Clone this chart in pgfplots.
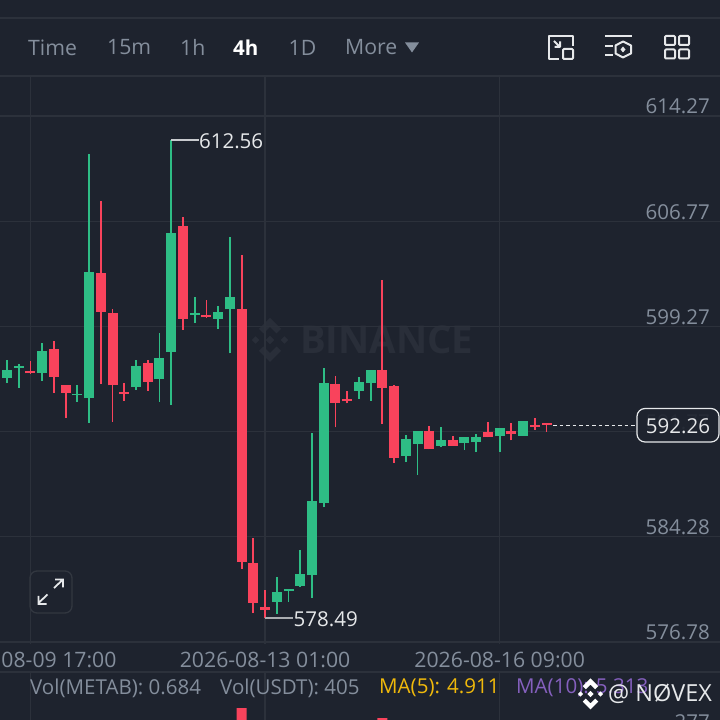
\documentclass[border=0pt]{standalone}
\usepackage{pgfplots}
\pgfplotsset{compat=1.18}
\usepackage{pgfplotstable}
\usepackage{fontspec}
\setmainfont{Open Sans}
\definecolor{bg}{HTML}{1E232E}
\definecolor{gridc}{HTML}{2C313B}
\definecolor{up}{HTML}{2EBD85}
\definecolor{down}{HTML}{F9435C}
\definecolor{graytxt}{HTML}{848E9C}
\definecolor{lighttxt}{HTML}{E6E8EA}
\definecolor{wm}{HTML}{292E39}
\definecolor{maorange}{HTML}{F0B90B}
\definecolor{mapurple}{HTML}{8560BE}
\newcommand{\fs}{\fontsize{20.6}{24}\selectfont}
\newcommand{\fd}{\fontsize{21.3}{24}\selectfont}
% candles: i high low bodytop bodybottom
\pgfplotstableread{
i h l t b
0 596.88 595.22 596.16 595.59
1 596.57 594.90 596.45 596.34
3 598.07 595.40 597.52 595.97
6 595.10 593.91 594.45 594.35
7 611.54 592.41 603.15 594.15
11 596.86 594.74 596.45 594.95
13 598.82 593.91 597.02 595.50
14 612.56 593.67 605.95 597.43
16 601.39 599.54 600.23 600.11
18 600.73 599.09 600.32 599.80
19 605.64 597.35 601.39 600.49
23 581.41 578.77 580.34 579.63
24 580.58 579.63 580.55 580.39
25 583.31 580.72 581.62 580.79
26 591.67 579.93 586.83 581.55
27 596.29 586.38 595.22 586.71
30 595.64 594.12 595.29 594.65
31 596.14 593.96 596.14 595.22
34 591.55 589.63 591.27 590.06
35 591.82 588.70 591.82 590.89
37 592.10 590.65 591.15 590.77
39 591.37 590.48 591.37 590.98
40 591.60 590.32 591.37 591.01
42 592.05 590.32 592.05 591.44
44 592.53 591.46 592.53 591.46
}\upcandles
\pgfplotstableread{
i h l t b
2 596.83 595.88 596.11 595.93
4 598.23 594.55 597.64 595.69
5 595.12 592.76 595.12 594.53
8 608.23 595.17 603.10 600.32
9 600.49 592.48 600.25 595.07
10 595.26 593.96 594.60 594.48
12 596.88 594.69 596.69 595.31
15 607.07 599.02 606.45 599.80
17 601.13 599.87 600.06 599.92
20 604.36 582.00 600.49 582.48
21 584.17 578.84 582.43 579.56
22 580.48 578.49 579.25 579.04
28 595.72 592.08 595.15 593.83
29 594.65 593.79 594.10 593.93
32 602.58 592.32 596.14 594.90
33 595.07 589.54 595.00 589.91
36 592.19 590.51 591.82 590.51
38 591.48 590.75 591.17 590.75
41 592.46 591.37 591.72 591.37
43 592.39 591.15 591.79 591.60
45 592.76 591.89 592.24 592.12
46 592.41 591.77 592.41 592.26
}\downcandles
\newcommand{\bnlogo}[4]{% cx cy scale colour
\begin{scope}[shift={(#1,#2)},x=#3bp,y=#3bp]
\fill[#4] (0,-1)--(.5,-.5)--(.3,-.3)--(0,-.6)--(-.3,-.3)--(-.5,-.5)--cycle;
\fill[#4] (0,1)--(.5,.5)--(.3,.3)--(0,.6)--(-.3,.3)--(-.5,.5)--cycle;
\fill[#4] (0,-.2)--(.2,0)--(0,.2)--(-.2,0)--cycle;
\fill[#4] (-.65,-.17)--(-.48,0)--(-.65,.17)--(-.82,0)--cycle;
\fill[#4] (.65,-.17)--(.82,0)--(.65,.17)--(.48,0)--cycle;
\end{scope}}
\newcommand{\candles}[2]{%
\addplot[draw=none,mark=none,forget plot,error bars/.cd,y dir=plus,y explicit,error mark=none,
  error bar style={#2,line width=1.8bp}] table[x=i,y=l,y error plus expr=\thisrow{h}-\thisrow{l}] {#1};
\addplot[draw=none,mark=none,forget plot,error bars/.cd,y dir=plus,y explicit,error mark=none,
  error bar style={#2,line width=10bp}] table[x=i,y=b,y error plus expr=\thisrow{t}-\thisrow{b}] {#1};
}
\begin{document}
\begin{tikzpicture}
\path[use as bounding box] (0,0) rectangle (720bp,720bp);
\clip (0,0) rectangle (720bp,720bp);
\begin{scope}[x=1bp,y=-1bp,shift={(0bp,720bp)}]
\fill[bg] (0,0) rectangle (720,720);
\bnlogo{270}{340}{22}{wm}
\node[wm,font=\fontsize{38.5}{40}\selectfont\bfseries,anchor=west,inner sep=0pt] at (300,340) {BINANCE};
\end{scope}
% price panel
\begin{axis}[at={(0bp,76bp)},anchor=south west,scale only axis,width=720bp,height=568bp,
  xmin=-0.5968,xmax=60.784,ymin=576.634,ymax=617.121,
  axis line style={draw=none},major tick length=0pt,
  grid=major,grid style={gridc,line width=1.3bp},
  ytick={614.27,606.77,599.27,591.77,584.28,576.78},
  yticklabels={614.27,606.77,599.27,591.77,584.28,576.78},
  yticklabel pos=right,
  yticklabel style={anchor=east,xshift=-10bp,yshift=9.5bp,text=graytxt,font=\fs,inner sep=0pt},
  xtick={2,22,42},
  xticklabels={{\hspace*{57bp}08-09 17:00},{2026-08-13 01:00},{2026-08-16 09:00}},
  xticklabel style={anchor=center,yshift=-16bp,text=graytxt,font=\fd,inner sep=0pt},
  clip=false]
\candles{\upcandles}{up}
\candles{\downcandles}{down}
\draw[lighttxt!85!bg,line width=1.3bp] (axis cs:14,612.56) -- ++(28bp,0bp)
  node[right,inner sep=0pt,text=lighttxt,font=\fs,yshift=-0.8bp,xshift=-0.8bp] {612.56};
\draw[lighttxt!70!bg,line width=1.3bp] (axis cs:22,578.49) -- ++(28bp,0bp)
  node[right,inner sep=0pt,text=lighttxt,font=\fs,yshift=-1.5bp] {578.49};
\end{axis}
% volume panel
\begin{axis}[at={(0bp,0bp)},anchor=south west,scale only axis,width=720bp,height=48bp,
  xmin=-0.5968,xmax=60.784,ymin=0,ymax=48,
  axis line style={draw=none},major tick length=0pt,
  xtick={2,22,42},xticklabel=\empty,ytick=\empty,
  xmajorgrids,grid style={gridc,line width=1.3bp},
  ybar,bar width=10bp,bar shift=0pt]
\addplot[fill=down,draw=none] coordinates {(20,12) (32,2)};
\end{axis}
\begin{scope}[x=1bp,y=-1bp,shift={(0bp,720bp)}]
\draw[gridc,line width=1.3bp] (0,18)--(720,18);
\draw[gridc,line width=1.6bp] (0,76)--(720,76);
\draw[gridc,line width=1.3bp] (0,672)--(720,672);
% header
\foreach \t/\x/\c in {Time/28/graytxt,15m/107/graytxt,1h/180/graytxt,1D/288.5/graytxt,More/345/graytxt}
  \node[anchor=west,inner sep=0pt,text=\c,font=\fd] at (\x,47.5) {\t};
\node[anchor=west,inner sep=0pt,text=white,font=\fs\bfseries] at (233,47.5) {4h};
\fill[graytxt] (405,42.5)--(419,42.5)--(412,52.5)--cycle;
\begin{scope}[draw=lighttxt,line width=2bp,line join=round]
\draw (573,46)--(573,36)--(549,36)--(549,59)--(559,59);
\draw[rounded corners=1] (563,49) rectangle (573,59);
\draw (554,41)--(560,47) (560,41.5)--(560,47)--(554.5,47);
\draw (605,36)--(632,36);
\draw (605,46)--(613,46) (605,55)--(613,55);
\draw (623,41.5)--(631,45.5)--(631,53.5)--(623,57.5)--(615.5,53.5)--(615.5,45.5)--cycle;
\fill[lighttxt] (623,46.5)--(625.5,49.5)--(623,52.5)--(620.5,49.5)--cycle;
\draw[rounded corners=1] (665,36) rectangle (675,45);
\draw[rounded corners=1] (679,36) rectangle (689,45);
\draw[rounded corners=1] (665,49.5) rectangle (675,58.5);
\draw[rounded corners=1] (679,49.5) rectangle (689,58.5);
\end{scope}
% last price
\draw[lighttxt,line width=1bp,dash pattern=on 3.5bp off 3bp] (553,425.2)--(637,425.2);
\draw[lighttxt,line width=1.2bp,rounded corners=8bp,fill=bg,fill opacity=0.92] (637,408.5) rectangle (719,442);
\node[text=lighttxt,font=\fs,inner sep=0pt] at (678,426.5) {592.26};
% expand button
\draw[gridc!140!bg,line width=1.3bp,rounded corners=7bp] (30,571) rectangle (72,613);
\begin{scope}[draw=lighttxt,line width=1.8bp]
\draw (38.5,603)--(47.5,594.5) (38.5,596)--(38.5,604)--(46.5,604);
\draw (54,588)--(62.5,580) (55,579.5)--(63,579.5)--(63,587.5);
\end{scope}
% volume legend
\foreach \t/\x/\c in {Vol(METAB): 0.684/30/graytxt,Vol(USDT): 405/220/graytxt,MA(5): 4.911/379/maorange,MA(10): 5.313/516/mapurple}
  \node[anchor=west,inner sep=0pt,text=\c,font=\fs] at (\x,688) {\t};
\node[anchor=north east,inner sep=0pt,text=graytxt,font=\fs] at (710,714.5) {277};
% overlay
\bnlogo{590.5}{694}{15.5}{white}
\node[anchor=west,inner sep=0pt,text=lighttxt,font=\fontsize{23.6}{26}\selectfont] at (608,694) {@ NØVEX};
\end{scope}
\end{tikzpicture}
\end{document}
